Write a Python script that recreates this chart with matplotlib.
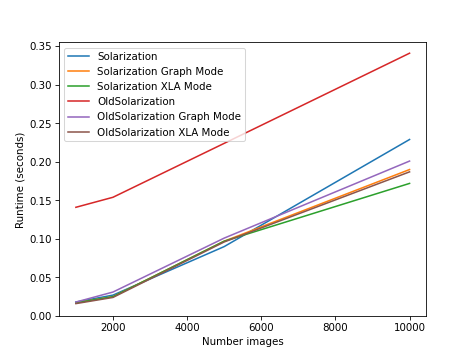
import matplotlib
matplotlib.use("Agg")
import matplotlib.pyplot as plt

num_images = [1000, 2000, 5000, 10000]

solarization = [0.018, 0.027, 0.090, 0.229]
solarization_graph = [0.017, 0.025, 0.097, 0.190]
solarization_xla = [0.017, 0.025, 0.097, 0.172]
old_solarization = [0.141, 0.154, 0.224, 0.341]
old_solarization_graph = [0.018, 0.031, 0.101, 0.201]
old_solarization_xla = [0.016, 0.024, 0.096, 0.187]

fig = plt.figure(figsize=(6.4, 4.8), dpi=74)
plt.plot(num_images, solarization, label="Solarization")
plt.plot(num_images, solarization_graph, label="Solarization Graph Mode")
plt.plot(num_images, solarization_xla, label="Solarization XLA Mode")
plt.plot(num_images, old_solarization, label="OldSolarization")
plt.plot(num_images, old_solarization_graph, label="OldSolarization Graph Mode")
plt.plot(num_images, old_solarization_xla, label="OldSolarization XLA Mode")
plt.xlabel("Number images")
plt.ylabel("Runtime (seconds)")
plt.ylim(0, 0.355)
plt.legend()
plt.savefig("out.png")
